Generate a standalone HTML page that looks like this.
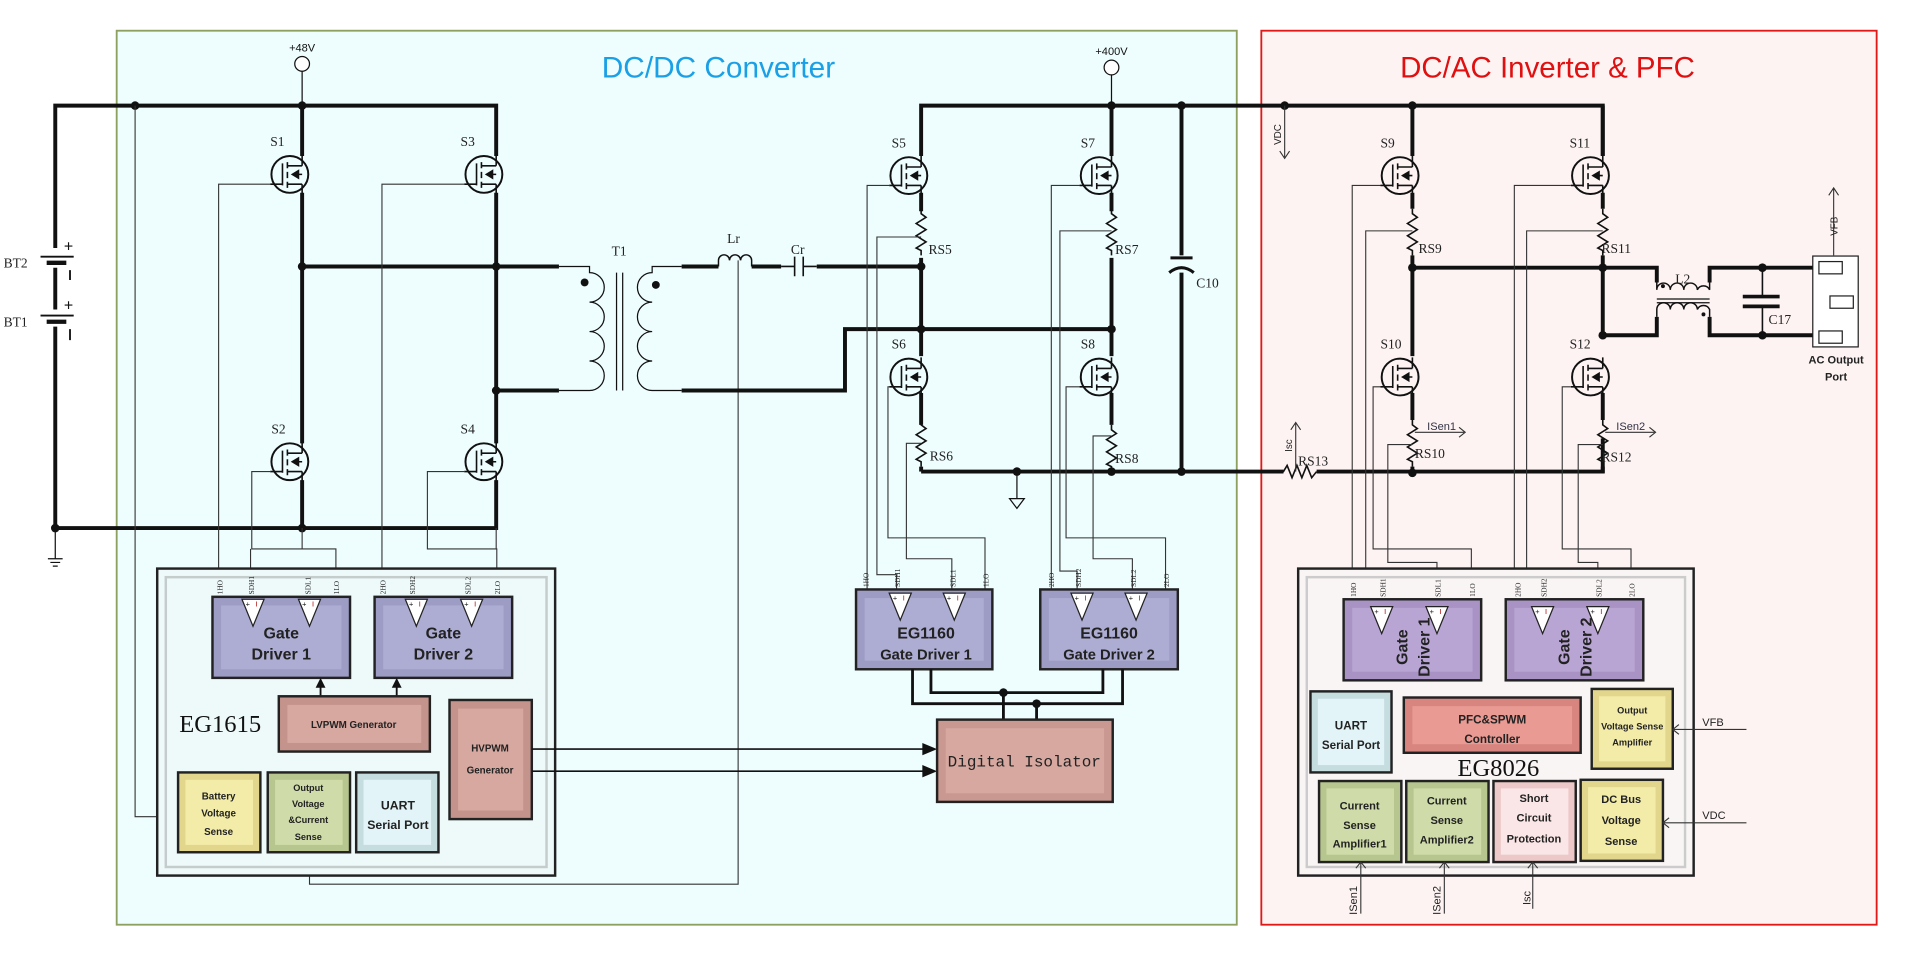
<!DOCTYPE html>
<html><head><meta charset="utf-8">
<style>
html,body{margin:0;padding:0;background:#fff;}
svg{display:block;}
.w{stroke:#111;fill:none;}
.tk{stroke:#111;stroke-width:3.2;fill:none;}
.tn{stroke:#333;stroke-width:0.9;fill:none;}
.lb{font-family:"Liberation Serif",serif;font-size:11px;fill:#222;}
.bl{font-family:"Liberation Sans",sans-serif;font-weight:bold;fill:#222;text-anchor:middle;}
.pin{font-family:"Liberation Serif",serif;font-size:6px;fill:#222;}
</style></head>
<body>
<svg width="1927" height="964" viewBox="0 0 1569 785" preserveAspectRatio="none" xmlns="http://www.w3.org/2000/svg">
<defs>
 <g id="mos" stroke="#111" fill="none" stroke-width="1.3">
  <circle r="15" stroke-width="1.6"/>
  <path d="M-6,-9V9 M-2,-10V-5 M-2,-2V3 M-2,6V11 M-2,-7H10 M-2,8H10 M2,0H10 M10,-7V-16 M10,8V16 M-6,8H-16"/>
  <polygon points="2,0 7,-3 7,3" fill="#111"/>
 </g>
 <path id="res" d="M0,0 V4 L4,7 L-4,12 L4,17 L-4,22 L4,27 L-4,32 L0,34 V38" stroke="#111" stroke-width="1.3" fill="none"/>
 <g id="tri"><polygon points="-9,0 9,0 0,22" fill="#fff" stroke="#222" stroke-width="1"/><text x="-6" y="6" font-size="6" font-family="Liberation Sans" fill="#222">+</text><text x="2" y="6" font-size="6" font-family="Liberation Sans" fill="#a00">I</text></g>
</defs>

<rect x="95" y="25" width="912" height="728" fill="#eefdfd" stroke="#8ea060" stroke-width="1.5"/>
<rect x="1027" y="25" width="501" height="728" fill="#fdf3f3" stroke="#e01818" stroke-width="1.5"/>
<text x="585" y="63" font-family="Liberation Sans" font-size="24" fill="#1aa0e6" text-anchor="middle" textLength="190" lengthAdjust="spacingAndGlyphs">DC/DC Converter</text>
<text x="1260" y="63" font-family="Liberation Sans" font-size="24" fill="#e01010" text-anchor="middle" textLength="240" lengthAdjust="spacingAndGlyphs">DC/AC Inverter &amp; PFC</text>

<path class="tk" d="M45,202 V86 H404 V127 M404,157 V361 M404,391 V430 H45 V266 M45,252 V218"/>
<path class="tk" d="M246,86 V127 M246,157 V361 M246,391 V430"/>
<path class="tk" d="M246,217 H455 M404,318 H455"/>
<path d="M33,209 H60 M33,257 H60" stroke="#111" stroke-width="1.5"/>
<path d="M38,214 H54 M38,262 H54" stroke="#111" stroke-width="3.5"/>
<text x="52" y="205" font-family="Liberation Sans" font-size="13" fill="#111">+</text>
<text x="52" y="253" font-family="Liberation Sans" font-size="13" fill="#111">+</text>
<path d="M57,220 V228 M57,268 V277" stroke="#111" stroke-width="1.5"/>
<text x="3" y="218" class="lb">BT2</text>
<text x="3" y="266" class="lb">BT1</text>
<path d="M45,430 V455 M39,455 H51 M41,458 H49 M43,461 H47" stroke="#111" stroke-width="1"/>
<path d="M246,58 V86" class="w" stroke-width="1"/>
<circle cx="246" cy="52" r="6" fill="#fff" stroke="#111"/>
<text x="246" y="42" font-family="Liberation Sans" font-size="9" text-anchor="middle" fill="#111">+48V</text>
<g fill="#111"><circle cx="110" cy="86" r="3.5"/><circle cx="246" cy="86" r="3.5"/><circle cx="246" cy="217" r="3.5"/><circle cx="404" cy="217" r="3.5"/><circle cx="404" cy="318" r="3.5"/><circle cx="45" cy="430" r="3.5"/><circle cx="246" cy="430" r="3.5"/></g>
<use href="#mos" x="236" y="142"/><use href="#mos" x="394" y="142"/>
<use href="#mos" x="236" y="376"/><use href="#mos" x="394" y="376"/>
<text x="220" y="119" class="lb">S1</text><text x="375" y="119" class="lb">S3</text>
<text x="221" y="353" class="lb">S2</text><text x="375" y="353" class="lb">S4</text>
<path class="tn" d="M220,150 H178 V486 M220,384 H205 V447 H273.5 V486 M204,447 V486 M246,430 V447 M378,150 H311 V486 M378,384 H348 V447 H404.5 V486 M404,430 V447 M250,463 V486 M335,463 V486 M380,463 V486"/>
<path class="tn" d="M110,86 V665 H143"/>
<path d="M139,661 L145,665 L139,669" class="tn"/>

<path class="tk" d="M404,217 H455 M404,318 H455"/>
<path d="M455,217 H480 V222 a12,12 0 0 1 0,24 a12,12 0 0 1 0,24 a12,12 0 0 1 0,24 a12,12 0 0 1 0,24 V318 H455" stroke="#111" stroke-width="1" fill="none"/>
<path d="M555,217 H531 V222 a12,12 0 0 0 0,24 a12,12 0 0 0 0,24 a12,12 0 0 0 0,24 a12,12 0 0 0 0,24 V318 H555" stroke="#111" stroke-width="1" fill="none"/>
<path d="M502,222 V318 M507,222 V318" stroke="#111" stroke-width="1"/>
<circle cx="476" cy="230" r="3.2" fill="#111"/><circle cx="534" cy="232" r="3.2" fill="#111"/>
<text x="498" y="208" class="lb">T1</text>
<path class="tk" d="M555,217 H585"/>
<path d="M585,217 V212 a4.5,4.5 0 0 1 9,0 a4.5,4.5 0 0 1 9,0 a4.5,4.5 0 0 1 9,0 V217" stroke="#111" stroke-width="1.2" fill="none"/>
<path class="tk" d="M612,217 H636"/>
<path d="M636,217 H647 M654,217 H665 M647,209 V225 M654,209 V225" stroke="#111" stroke-width="1.3"/>
<path class="tk" d="M665,217 H750"/>
<text x="592" y="198" class="lb" font-size="13">Lr</text>
<text x="644" y="207" class="lb" font-size="13">Cr</text>
<path class="tn" d="M601,212 V720 H252 V692"/>
<path class="tn" d="M248,697 L252,690 L256,697"/>
<path class="tk" d="M555,318 H688 V268 H905"/>

<path class="tk" d="M750,127 V86 H1305 V127"/>
<path class="tk" d="M750,157 V172 M750,210 V290 M750,320 V346 M750,384 H1045 M1072,384 H1305 V357"/>
<path class="tk" d="M905,86 V127 M905,157 V172 M905,210 V290 M905,320 V346 M905,384"/>
<use href="#res" x="750" y="170"/><use href="#res" x="905" y="170"/>
<use href="#res" x="750" y="342"/><use href="#res" x="905" y="346"/>
<path class="tk" d="M750,380 V384"/>
<text x="756" y="207" class="lb">RS5</text><text x="908" y="207" class="lb">RS7</text>
<text x="757" y="375" class="lb">RS6</text><text x="908" y="377" class="lb">RS8</text>
<use href="#mos" x="740" y="143"/><use href="#mos" x="895" y="143"/>
<use href="#mos" x="740" y="307"/><use href="#mos" x="895" y="307"/>
<text x="726" y="120" class="lb">S5</text><text x="880" y="120" class="lb">S7</text>
<text x="726" y="284" class="lb">S6</text><text x="880" y="284" class="lb">S8</text>
<path class="tk" d="M962,86 V208 M962,222 V384"/>
<path d="M953,210 H971" stroke="#111" stroke-width="2.5"/>
<path d="M952,222 Q962,214 972,222" stroke="#111" stroke-width="2.5" fill="none"/>
<text x="974" y="234" class="lb">C10</text>
<path d="M905,61 V86" stroke="#111" stroke-width="1"/>
<circle cx="905" cy="55" r="6" fill="#fff" stroke="#111"/>
<text x="905" y="45" font-family="Liberation Sans" font-size="9" text-anchor="middle" fill="#111">+400V</text>
<path d="M828,384 V406" stroke="#111" stroke-width="1"/>
<polygon points="822,406 834,406 828,414" fill="none" stroke="#111" stroke-width="1"/>
<g fill="#111"><circle cx="905" cy="86" r="3.5"/><circle cx="962" cy="86" r="3.5"/><circle cx="1046" cy="86" r="3.5"/><circle cx="1150" cy="86" r="3.5"/>
<circle cx="750" cy="217" r="3.5"/><circle cx="750" cy="268" r="3.5"/><circle cx="905" cy="268" r="3.5"/>
<circle cx="828" cy="384" r="3.5"/><circle cx="905" cy="384" r="3.5"/><circle cx="962" cy="384" r="3.5"/><circle cx="1150" cy="385" r="3.5"/></g>
<path class="tn" d="M724,151 H706 V480 M750,193 H714 V468 H730 V480 M724,315 H723 V438 H802 V480 M750,361 H738 V455 H775 V480"/>
<path class="tn" d="M879,151 H856 V480 M905,188 H863 V465 H877 V480 M879,315 H868 V438 H949 V480 M905,355 H890 V455 H922 V480"/>

<path class="tk" d="M1150,86 V127 M1150,157 V170 M1150,208 V290 M1150,218 H1349 V230 M1305,86 V127 M1305,157 V170 M1305,208 V273 H1349 V258"/>
<path class="tk" d="M1150,320 V342 M1150,380 V385 M1305,320 V342 M1305,380 V385"/>
<use href="#res" x="1150" y="170"/><use href="#res" x="1305" y="170"/>
<use href="#res" x="1150" y="342"/><use href="#res" x="1305" y="342"/>
<use href="#mos" x="1140" y="143"/><use href="#mos" x="1295" y="143"/>
<use href="#mos" x="1140" y="307"/><use href="#mos" x="1295" y="307"/>
<text x="1124" y="120" class="lb">S9</text><text x="1278" y="120" class="lb">S11</text>
<text x="1124" y="284" class="lb">S10</text><text x="1278" y="284" class="lb">S12</text>
<text x="1155" y="206" class="lb" fill="#334">RS9</text><text x="1304" y="206" class="lb" fill="#334">RS11</text>
<text x="1152" y="373" class="lb" fill="#334">RS10</text><text x="1304" y="376" class="lb" fill="#334">RS12</text>
<g fill="#111"><circle cx="1150" cy="218" r="3.5"/><circle cx="1305" cy="218" r="3.5"/><circle cx="1305" cy="273" r="3.5"/><circle cx="1435" cy="218" r="3.5"/><circle cx="1435" cy="273" r="3.5"/></g>
<path class="tn" d="M1152,352 H1192 M1188,348 L1193,352 L1188,356 M1307,352 H1347 M1343,348 L1348,352 L1343,356"/>
<text x="1162" y="350" font-family="Liberation Sans" font-size="9" fill="#334">ISen1</text>
<text x="1316" y="350" font-family="Liberation Sans" font-size="9" fill="#334">ISen2</text>
<path d="M1040,384 H1045 L1048,379 L1052,389 L1056,379 L1060,389 L1064,379 L1068,389 L1072,384" stroke="#111" stroke-width="1.3" fill="none"/>
<text x="1057" y="379" class="lb" fill="#334">RS13</text>
<path class="tn" d="M1055,384 V345 M1051,350 L1055,344 L1059,350"/>
<text transform="translate(1052,368) rotate(-90)" font-family="Liberation Sans" font-size="8" fill="#222">Isc</text>
<path class="tn" d="M1046,86 V128 M1042,123 L1046,129 L1050,123"/>
<text transform="translate(1043,118) rotate(-90)" font-family="Liberation Sans" font-size="8" fill="#222">VDC</text>
<path class="tn" d="M1124,151 H1101 V488 M1150,188 H1112 V470 H1125 V488 M1124,315 H1118 V447 H1198 V488 M1150,362 H1130 V458 H1170 V488"/>
<path class="tn" d="M1279,151 H1233 V488 M1305,188 H1243 V470 H1256 V488 M1279,315 H1272 V447 H1328 V488 M1305,362 H1285 V458 H1301 V488"/>
<path d="M1349,230 V236 a5.5,5.5 0 0 1 11,0 a5.5,5.5 0 0 1 11,0 a5.5,5.5 0 0 1 11,0 a5.5,5.5 0 0 1 10,0 V230" stroke="#111" stroke-width="1.2" fill="none"/>
<path d="M1349,258 V252 a5.5,5.5 0 0 1 11,0 a5.5,5.5 0 0 1 11,0 a5.5,5.5 0 0 1 11,0 a5.5,5.5 0 0 1 10,0 V258" stroke="#111" stroke-width="1.2" fill="none"/>
<path d="M1349,243.5 H1392 M1349,246.5 H1392" stroke="#111" stroke-width="1"/>
<circle cx="1354" cy="233" r="1.6" fill="#111"/><circle cx="1387" cy="256" r="1.6" fill="#111"/>
<path class="tk" d="M1392,230 V218 H1476 M1392,258 V273 H1476"/>
<path d="M1435,218 V241 M1435,250 V273" stroke="#111" stroke-width="1.3"/>
<path d="M1419,241.5 H1449 M1419,249.5 H1449" stroke="#111" stroke-width="3"/>
<text x="1364" y="231" class="lb">L2</text>
<text x="1440" y="264" class="lb">C17</text>
<rect x="1476" y="208.5" width="37" height="74" fill="#fff" stroke="#222" stroke-width="1"/>
<rect x="1481" y="213" width="19" height="10" fill="#fff" stroke="#222" stroke-width="1"/>
<rect x="1490" y="241" width="19" height="10" fill="#fff" stroke="#222" stroke-width="1"/>
<rect x="1481" y="269.5" width="19" height="10" fill="#fff" stroke="#222" stroke-width="1"/>
<path class="tn" d="M1493,208 V154 M1489,159 L1493,153 L1497,159"/>
<text transform="translate(1496,192) rotate(-90)" font-family="Liberation Sans" font-size="8" fill="#222">VFB</text>
<text x="1495" y="296" class="bl" font-size="9">AC Output</text>
<text x="1495" y="310" class="bl" font-size="9">Port</text>

<rect x="128" y="463" width="324" height="250" fill="#eef9f9" stroke="#222" stroke-width="2"/>
<rect x="135" y="470" width="310" height="236" fill="none" stroke="#c4cccc" stroke-width="2"/>
<text x="146" y="596" font-family="Liberation Serif" font-size="20" fill="#111">EG1615</text>
<rect x="173" y="486" width="112" height="66" fill="#9c9cc4" stroke="#222" stroke-width="2"/>
<rect x="180" y="493" width="98" height="52" fill="#adadd3"/>
<rect x="305" y="486" width="112" height="66" fill="#9c9cc4" stroke="#222" stroke-width="2"/>
<rect x="312" y="493" width="98" height="52" fill="#adadd3"/>
<use href="#tri" x="206" y="488"/><use href="#tri" x="252" y="488"/>
<use href="#tri" x="339" y="488"/><use href="#tri" x="384" y="488"/>
<text x="229" y="520" class="bl" font-size="13">Gate</text><text x="229" y="537" class="bl" font-size="13">Driver 1</text>
<text x="361" y="520" class="bl" font-size="13">Gate</text><text x="361" y="537" class="bl" font-size="13">Driver 2</text>
<g class="pin"><text transform="translate(181,484) rotate(-90)">1HO</text><text transform="translate(207,484) rotate(-90)">SDH1</text><text transform="translate(253,484) rotate(-90)">SDL1</text><text transform="translate(276,484) rotate(-90)">1LO</text>
<text transform="translate(314,484) rotate(-90)">2HO</text><text transform="translate(338,484) rotate(-90)">SDH2</text><text transform="translate(383,484) rotate(-90)">SDL2</text><text transform="translate(407,484) rotate(-90)">2LO</text></g>
<path d="M261,567 V558 M323,567 V558" stroke="#111" stroke-width="1.5"/>
<polygon points="261,552 257,560 265,560" fill="#111"/><polygon points="323,552 319,560 327,560" fill="#111"/>
<rect x="227" y="567" width="123" height="45" fill="#c4948c" stroke="#222" stroke-width="2"/>
<rect x="234" y="574" width="109" height="31" fill="#d6a8a0"/>
<text x="288" y="593" class="bl" font-size="8">LVPWM Generator</text>
<rect x="366" y="570" width="67" height="97" fill="#c4948c" stroke="#222" stroke-width="2"/>
<rect x="373" y="577" width="53" height="83" fill="#d6a8a0"/>
<text x="399" y="612" class="bl" font-size="8">HVPWM</text>
<text x="399" y="630" class="bl" font-size="8">Generator</text>
<rect x="145" y="629" width="67" height="65" fill="#e2d58c" stroke="#222" stroke-width="2"/>
<rect x="151" y="635" width="55" height="53" fill="#f3eca8"/>
<text x="178" y="651" class="bl" font-size="8">Battery</text><text x="178" y="665" class="bl" font-size="8">Voltage</text><text x="178" y="680" class="bl" font-size="8">Sense</text>
<rect x="218" y="629" width="67" height="65" fill="#b6c68e" stroke="#222" stroke-width="2"/>
<rect x="224" y="635" width="55" height="53" fill="#cfdcaa"/>
<text x="251" y="644" class="bl" font-size="7.5">Output</text><text x="251" y="657" class="bl" font-size="7.5">Voltage</text><text x="251" y="670" class="bl" font-size="7.5">&amp;Current</text><text x="251" y="684" class="bl" font-size="7.5">Sense</text>
<rect x="290" y="629" width="67" height="65" fill="#c6dde0" stroke="#222" stroke-width="2"/>
<rect x="296" y="635" width="55" height="53" fill="#e2f4f7"/>
<text x="324" y="659" class="bl" font-size="10">UART</text><text x="324" y="675" class="bl" font-size="10">Serial Port</text>
<path d="M433,610 H752 M433,628 H752" stroke="#111" stroke-width="1.3"/>
<polygon points="763,610 751,605 751,615" fill="#111"/><polygon points="763,628 751,623 751,633" fill="#111"/>

<rect x="697" y="480" width="111" height="65" fill="#9c9cc4" stroke="#222" stroke-width="2"/>
<rect x="704" y="487" width="97" height="51" fill="#adadd3"/>
<rect x="847" y="480" width="112" height="65" fill="#9c9cc4" stroke="#222" stroke-width="2"/>
<rect x="854" y="487" width="98" height="51" fill="#adadd3"/>
<use href="#tri" x="733" y="483"/><use href="#tri" x="777" y="483"/>
<use href="#tri" x="881" y="483"/><use href="#tri" x="925" y="483"/>
<text x="754" y="520" class="bl" font-size="13">EG1160</text><text x="754" y="537" class="bl" font-size="12">Gate Driver 1</text>
<text x="903" y="520" class="bl" font-size="13">EG1160</text><text x="903" y="537" class="bl" font-size="12">Gate Driver 2</text>
<g class="pin"><text transform="translate(707,478) rotate(-90)">1HO</text><text transform="translate(733,478) rotate(-90)">SDH1</text><text transform="translate(778,478) rotate(-90)">SDL1</text><text transform="translate(805,478) rotate(-90)">1LO</text>
<text transform="translate(858,478) rotate(-90)">2HO</text><text transform="translate(880,478) rotate(-90)">SDH2</text><text transform="translate(925,478) rotate(-90)">SDL2</text><text transform="translate(952,478) rotate(-90)">2LO</text></g>
<path d="M743,545 V573 H914 V545 M758,545 V564 H898 V545 M817,564 V586 M844,573 V586" stroke="#111" stroke-width="2.3" fill="none"/>
<circle cx="817" cy="564" r="3.5" fill="#111"/><circle cx="844" cy="573" r="3.5" fill="#111"/>
<rect x="763" y="586" width="143" height="67" fill="#c99890" stroke="#222" stroke-width="2"/>
<rect x="770" y="593" width="129" height="53" fill="#d6a8a0"/>
<text x="834" y="624" font-family="Liberation Mono" font-size="13" fill="#222" text-anchor="middle">Digital Isolator</text>

<rect x="1057" y="463" width="322" height="250" fill="#faf5f5" stroke="#222" stroke-width="2"/>
<rect x="1064" y="470" width="308" height="236" fill="none" stroke="#ccc" stroke-width="2"/>
<rect x="1094" y="488" width="112" height="66" fill="#a893c4" stroke="#222" stroke-width="2"/>
<rect x="1101" y="495" width="98" height="52" fill="#b8a5d4"/>
<rect x="1226" y="488" width="112" height="66" fill="#a893c4" stroke="#222" stroke-width="2"/>
<rect x="1233" y="495" width="98" height="52" fill="#b8a5d4"/>
<use href="#tri" x="1125" y="494"/><use href="#tri" x="1170" y="494"/>
<use href="#tri" x="1256" y="494"/><use href="#tri" x="1301" y="494"/>
<text transform="translate(1146,527) rotate(-90)" class="bl" font-size="13">Gate</text>
<text transform="translate(1164,527) rotate(-90)" class="bl" font-size="13">Driver 1</text>
<text transform="translate(1278,527) rotate(-90)" class="bl" font-size="13">Gate</text>
<text transform="translate(1296,527) rotate(-90)" class="bl" font-size="13">Driver 2</text>
<g class="pin"><text transform="translate(1104,486) rotate(-90)">1HO</text><text transform="translate(1128,486) rotate(-90)">SDH1</text><text transform="translate(1173,486) rotate(-90)">SDL1</text><text transform="translate(1201,486) rotate(-90)">1LO</text>
<text transform="translate(1238,486) rotate(-90)">2HO</text><text transform="translate(1259,486) rotate(-90)">SDH2</text><text transform="translate(1304,486) rotate(-90)">SDL2</text><text transform="translate(1331,486) rotate(-90)">2LO</text></g>
<rect x="1067" y="563" width="66" height="66" fill="#c6dde0" stroke="#222" stroke-width="2"/>
<rect x="1073" y="569" width="54" height="54" fill="#e2f4f7"/>
<text x="1100" y="594" class="bl" font-size="9.5">UART</text><text x="1100" y="610" class="bl" font-size="9.5">Serial Port</text>
<rect x="1143" y="568" width="144" height="45" fill="#d8857f" stroke="#222" stroke-width="2"/>
<rect x="1150" y="575" width="130" height="31" fill="#e89a93"/>
<text x="1215" y="589" class="bl" font-size="9.5">PFC&amp;SPWM</text><text x="1215" y="605" class="bl" font-size="9.5">Controller</text>
<rect x="1296" y="561" width="66" height="65" fill="#e2d58c" stroke="#222" stroke-width="2"/>
<rect x="1302" y="567" width="54" height="53" fill="#f3eca8"/>
<text x="1329" y="581" class="bl" font-size="7.5">Output</text><text x="1329" y="594" class="bl" font-size="7.5">Voltage Sense</text><text x="1329" y="607" class="bl" font-size="7.5">Amplifier</text>
<text x="1220" y="632" font-family="Liberation Serif" font-size="20" fill="#111" text-anchor="middle">EG8026</text>
<rect x="1074" y="636" width="67" height="66" fill="#b6c68e" stroke="#222" stroke-width="2"/>
<rect x="1080" y="642" width="55" height="54" fill="#cfdcaa"/>
<text x="1107" y="659" class="bl" font-size="9">Current</text><text x="1107" y="675" class="bl" font-size="9">Sense</text><text x="1107" y="690" class="bl" font-size="9">Amplifier1</text>
<rect x="1145" y="636" width="67" height="66" fill="#b6c68e" stroke="#222" stroke-width="2"/>
<rect x="1151" y="642" width="55" height="54" fill="#cfdcaa"/>
<text x="1178" y="655" class="bl" font-size="9">Current</text><text x="1178" y="671" class="bl" font-size="9">Sense</text><text x="1178" y="687" class="bl" font-size="9">Amplifier2</text>
<rect x="1216" y="636" width="67" height="66" fill="#ecc8c8" stroke="#222" stroke-width="2"/>
<rect x="1222" y="642" width="55" height="54" fill="#fae6e6"/>
<text x="1249" y="653" class="bl" font-size="9">Short</text><text x="1249" y="669" class="bl" font-size="9">Circuit</text><text x="1249" y="686" class="bl" font-size="9">Protection</text>
<rect x="1287" y="635" width="67" height="66" fill="#e2d58c" stroke="#222" stroke-width="2"/>
<rect x="1293" y="641" width="55" height="54" fill="#f3eca8"/>
<text x="1320" y="654" class="bl" font-size="9">DC Bus</text><text x="1320" y="671" class="bl" font-size="9">Voltage</text><text x="1320" y="688" class="bl" font-size="9">Sense</text>
<path class="tn" d="M1362,594 H1422 M1367,590 L1362,594 L1367,598 M1354,670 H1422 M1359,666 L1354,670 L1359,674"/>
<text x="1386" y="591" font-family="Liberation Sans" font-size="9" fill="#222">VFB</text>
<text x="1386" y="667" font-family="Liberation Sans" font-size="9" fill="#222">VDC</text>
<path class="tn" d="M1108,744 V702 M1104,707 L1108,702 L1112,707 M1176,744 V702 M1172,707 L1176,702 L1180,707 M1248,740 V702 M1244,707 L1248,702 L1252,707"/>
<text transform="translate(1105,745) rotate(-90)" font-family="Liberation Sans" font-size="9" fill="#222">ISen1</text>
<text transform="translate(1173,745) rotate(-90)" font-family="Liberation Sans" font-size="9" fill="#222">ISen2</text>
<text transform="translate(1246,737) rotate(-90)" font-family="Liberation Sans" font-size="9" fill="#222">Isc</text>
</svg>
</body></html>
